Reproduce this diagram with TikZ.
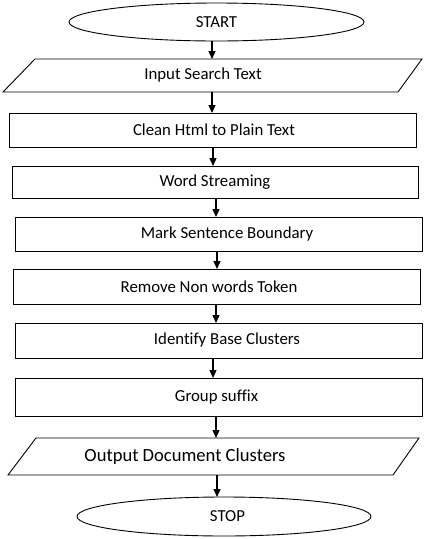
\documentclass[tikz,border=0pt]{standalone}
\usepackage{fontspec}
\setmainfont{Carlito}[Ligatures=CommonOff]
\usetikzlibrary{shapes.geometric,arrows.meta,calc}
\begin{document}
\begin{tikzpicture}[x=1pt,y=1pt,
  every node/.style={font=\fontsize{16.8}{19}\selectfont, inner sep=0pt, outer sep=0pt},
  term/.style={ellipse, draw, line width=0.9pt},
  proc/.style={rectangle, draw, line width=0.9pt},
  io/.style={rectangle},
  slant/.style={line width=0.9pt},
  arr/.style={-{Triangle[length=8pt,width=7pt]}, line width=1.3pt}]
\useasboundingbox (0,0) rectangle (425,-539);
\node[term, minimum width=295, minimum height=38] (start) at (216.5,-22) {START};
\node[io, minimum width=419, minimum height=33] (in) at (212.5,-75.5) {Input Search Text\hspace*{19pt}};
\draw[slant] ([xshift=32]in.north west) -- (in.north east) -- ([xshift=-24]in.south east) -- (in.south west) -- cycle;
\node[proc, minimum width=407, minimum height=34] (clean) at (212.5,-130) {\hspace*{3pt}Clean Html to Plain Text};
\node[proc, minimum width=406, minimum height=32] (word) at (215,-182) {Word Streaming};
\node[proc, minimum width=407, minimum height=34] (mark) at (218.5,-234) {\hspace*{17pt}Mark Sentence Boundary};
\node[proc, minimum width=407, minimum height=35] (remove) at (216.5,-286.5) {Remove Non words Token\hspace*{15pt}};
\node[proc, minimum width=407, minimum height=35] (ident) at (218.5,-340.5) {\hspace*{17pt}Identify Base Clusters};
\node[proc, minimum width=407, minimum height=38] (group) at (218.5,-397) {Group suffix\hspace*{4pt}};
\node[io, minimum width=411, minimum height=37, font=\fontsize{18.6}{21}\selectfont] (out) at (213.5,-456.5) {Output Document Clusters\hspace*{57pt}};
\draw[slant] ([xshift=28]out.north west) -- (out.north east) -- ([xshift=-26]out.south east) -- (out.south west) -- cycle;
\node[term, minimum width=294, minimum height=39] (stop) at (224,-516.5) {\hspace*{7pt}STOP};
\coordinate (a1) at (212,0);
\coordinate (a3) at (213,0);
\coordinate (a4) at (216,0);
\coordinate (a5) at (217,0);
\draw[arr] (start.south -| a1) -- (in.north -| a1);
\draw[arr] (in.south -| a1) -- (clean.north -| a1);
\draw[arr] (clean.south -| a3) -- (word.north -| a3);
\draw[arr] (word.south -| a4) -- (mark.north -| a4);
\draw[arr] (mark.south -| a5) -- (remove.north -| a5);
\draw[arr] (remove.south -| a4) -- (ident.north -| a4);
\draw[arr] (ident.south -| a3) -- (group.north -| a3);
\draw[arr] (group.south -| a4) -- (out.north -| a4);
\draw[arr] (out.south -| a5) -- (stop.north -| a5);
\end{tikzpicture}
\end{document}
